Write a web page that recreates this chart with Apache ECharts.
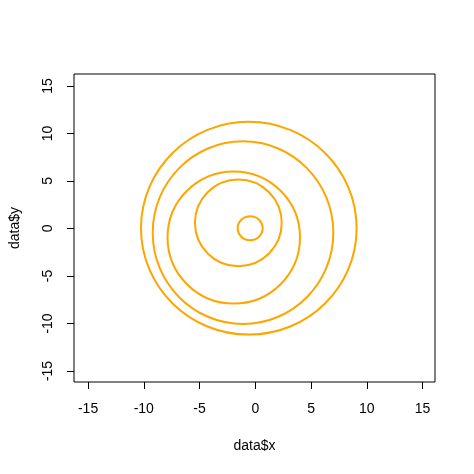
<!DOCTYPE html>
<html>
<head>
<meta charset="utf-8">
<script src="https://cdn.jsdelivr.net/npm/echarts@6/dist/echarts.min.js"></script>
<style>
html,body{margin:0;padding:0;background:#fff;}
#chart{width:474px;height:474px;}
</style>
</head>
<body>
<div id="chart"></div>
<script>
// Circle (ellipse in data units) parameters
const circleCx = [-0.46, -1.52, -1.93, -1.10, -0.58];
const circleCy = [0.03, 0.59, -0.95, -0.44, 0.03];
const circleRx = [1.12, 3.89, 5.94, 8.10, 9.67];
const circleRy = [1.26, 4.57, 6.95, 9.61, 11.20];

const xTicks = [-15, -10, -5, 0, 5, 10, 15];
const yTicks = [-15, -10, -5, 0, 5, 10, 15];

const xLabel = 'data$x';
const yLabel = 'data$y';

const data = circleCx.map((cx, i) => [cx, circleCy[i], circleRx[i], circleRy[i]]);

const font = 'Liberation Sans, Arial, sans-serif';
const chart = echarts.init(document.getElementById('chart'), null, {renderer: 'canvas'});

chart.setOption({
  backgroundColor: '#fff',
  animation: false,
  grid: {
    left: 74, top: 74, right: 39, bottom: 92,
    show: true, borderColor: '#000', borderWidth: 1,
    backgroundColor: 'transparent',
    outerBoundsMode: 'none',
    containLabel: false
  },
  xAxis: {
    type: 'value',
    position: 'bottom',
    min: -16.26, max: 16.12,
    axisLine: {show: false, onZero: false},
    splitLine: {show: false},
    axisTick: {show: true, inside: false, length: 7, customValues: xTicks, lineStyle: {color: '#000', width: 1}},
    axisLabel: {customValues: xTicks, margin: 20, fontSize: 14, color: '#000', fontFamily: font},
    name: xLabel, nameLocation: 'middle', nameGap: 57,
    nameTextStyle: {fontSize: 14, color: '#000', fontFamily: font}
  },
  yAxis: {
    type: 'value',
    position: 'left',
    min: -16.16, max: 16.26,
    axisLine: {show: false, onZero: false},
    splitLine: {show: false},
    axisTick: {show: true, inside: false, length: 7, customValues: yTicks, lineStyle: {color: '#000', width: 1}},
    axisLabel: {customValues: yTicks, rotate: 90, margin: 19, fontSize: 14, color: '#000', fontFamily: font},
    name: yLabel, nameLocation: 'middle', nameGap: 52,
    nameTextStyle: {fontSize: 14, color: '#000', fontFamily: font}
  },
  series: [{
    type: 'custom',
    data: data,
    encode: {x: 0, y: 1},
    clip: false,
    renderItem: function (params, api) {
      const cx = api.value(0), cy = api.value(1), rx = api.value(2), ry = api.value(3);
      const c = api.coord([cx, cy]);
      const px = api.coord([cx + rx, cy]);
      const py = api.coord([cx, cy + ry]);
      return {
        type: 'ellipse',
        shape: {cx: c[0], cy: c[1], rx: Math.abs(px[0] - c[0]), ry: Math.abs(c[1] - py[1])},
        style: {fill: null, stroke: '#FFA500', lineWidth: 2}
      };
    }
  }]
});
</script>
</body>
</html>
